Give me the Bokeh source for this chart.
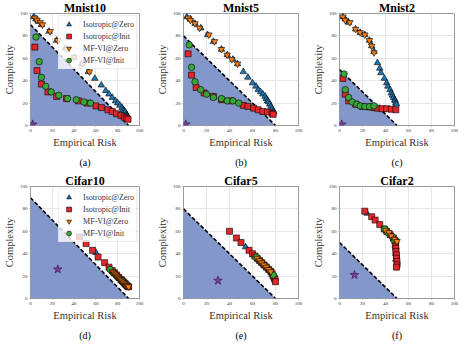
from bokeh.plotting import figure
from bokeh.layouts import gridplot
from bokeh.models import Range1d, FixedTicker, Title, Legend, LegendItem
from bokeh.embed import file_html
from bokeh.resources import INLINE

# ---------------- data ----------------
titles = ["Mnist10", "Mnist5", "Mnist2", "Cifar10", "Cifar5", "Cifar2"]
captions = ["(a)", "(b)", "(c)", "(d)", "(e)", "(f)"]
bounds = [90, 80, 50, 90, 80, 50]
star_x = [2, 2, 2, 25, 30, 13]
star_y = [1, 1, 1, 26, 16, 21]
ticks = [0, 20, 40, 60, 80, 100]
series_names = ["Isotropic@Zero", "Isotropic@Init", "MF-VI@Zero", "MF-VI@Init"]

# Mnist10
mnist10_iso_zero_x = [3, 5, 7, 10, 17, 24, 32, 40, 47, 53, 59, 65, 69, 72, 75, 78, 80, 82, 84, 85, 86, 87, 88, 88.5, 89]
mnist10_iso_zero_y = [97, 95, 93, 90, 84, 76, 69, 61, 55, 48, 42, 36, 31, 28, 25, 22, 20, 18, 16, 14, 13, 12, 10, 9, 8]
mnist10_iso_init_x = [4, 6, 10, 16, 24, 33, 44, 52, 60, 65, 71, 75, 79, 83, 86, 88, 89.5]
mnist10_iso_init_y = [70, 49, 37, 30, 26, 24, 22, 20, 17.5, 16, 14, 12.5, 10.5, 9, 7.5, 6.5, 5.5]
mnist10_mf_zero_x = [4, 6, 9, 11, 18, 25, 33, 40, 48, 54]
mnist10_mf_zero_y = [96, 94, 92, 90, 84, 76, 68, 61, 55, 48]
mnist10_mf_init_x = [5, 8, 10, 14, 19, 26, 34, 42, 49, 55]
mnist10_mf_init_y = [79, 57, 43, 35, 30, 27, 24, 23, 21, 20]

# Mnist5
mnist5_iso_zero_x = [3, 6, 10, 15, 21, 26, 33, 38, 43, 47, 52, 56, 60, 63, 65, 67, 69, 71, 72, 73, 74, 75, 76, 77, 78, 78.5]
mnist5_iso_zero_y = [97, 95, 91, 87, 81, 75, 68, 63, 59, 55, 48, 43, 38, 35, 32, 30, 28, 26, 24, 22, 21, 19, 17, 15, 13, 12]
mnist5_iso_init_x = [4, 7, 11, 18, 26, 33, 41, 52, 56, 61, 65, 69, 73, 77, 78]
mnist5_iso_init_y = [64, 45, 34, 29, 26, 23, 22, 18, 17, 15.5, 14, 12.5, 12, 10.5, 10]
mnist5_mf_zero_x = [4, 6, 10, 14, 22, 27, 33, 38, 42, 47]
mnist5_mf_zero_y = [96, 94, 91, 87, 81, 75, 68, 63, 59, 55]
mnist5_mf_init_x = [5, 7, 10, 15, 20, 26, 33, 38, 43, 48]
mnist5_mf_init_y = [72, 52, 39, 32, 28, 25, 24, 22, 22, 20]

# Mnist2
mnist2_iso_zero_x = [3, 5, 8, 14, 18, 22, 26, 28, 30, 33, 35, 36, 39, 41, 42, 44, 45, 46, 47, 48, 48.5, 49, 49.5]
mnist2_iso_zero_y = [97, 95, 92, 86, 83, 81, 76, 71, 66, 56, 51, 47, 42, 38, 35, 32, 29, 27, 25, 23, 22, 20, 19]
mnist2_iso_init_x = [3, 5, 8, 14, 20, 26, 30, 33, 37, 41, 45, 49]
mnist2_iso_init_y = [42, 28, 22, 19, 17, 16.5, 16, 15.5, 15, 15, 14.5, 14]
mnist2_mf_zero_x = [3, 5, 9, 14, 18, 22, 26, 28, 30]
mnist2_mf_zero_y = [97, 94, 92, 86, 83, 81, 76, 71, 65]
mnist2_mf_init_x = [4, 5, 8, 11, 15, 18, 22, 26, 30]
mnist2_mf_init_y = [46, 32, 25, 21, 19, 17.5, 17, 17, 17.5]

# Cifar10
cifar10_iso_zero_x = [60, 74, 78, 82, 85, 88, 90]
cifar10_iso_zero_y = [41, 26, 22, 18, 15, 12, 10]
cifar10_iso_init_x = [45, 51, 57, 62, 68, 72, 75, 77, 79, 81, 83, 84, 85, 86, 87, 88, 89, 90]
cifar10_iso_init_y = [55, 49, 43, 37, 32, 28, 25, 23, 21, 19, 17, 16, 15, 14, 13, 12, 11, 10.5]
cifar10_mf_zero_x = [75, 76, 77, 78, 79, 80, 81, 82, 83, 84, 85, 86, 87, 88, 89, 90]
cifar10_mf_zero_y = [24, 23, 22, 21, 20, 19, 18, 17, 16, 15, 14, 13, 12, 11.5, 11, 10.5]
cifar10_mf_init_x = [73, 76, 80, 84, 87, 89]
cifar10_mf_init_y = [26, 23, 19, 16, 13, 11]

# Cifar5
cifar5_iso_zero_x = [54, 61, 65, 70, 74, 78]
cifar5_iso_zero_y = [46, 39, 35, 30, 26, 22]
cifar5_iso_init_x = [40, 46, 50, 57, 60, 62, 64, 66, 68, 70, 72, 74, 76, 77, 78, 79, 79.5, 80]
cifar5_iso_init_y = [60, 54, 50, 43, 40, 38, 36, 34, 32, 30, 28, 26, 24, 22, 20, 18, 17, 15]
cifar5_mf_zero_x = [64, 66, 68, 70, 72, 74, 76]
cifar5_mf_zero_y = [36, 34, 32, 30, 28, 26, 24]
cifar5_mf_init_x = [63, 67, 71, 75, 78]
cifar5_mf_init_y = [37, 33, 29, 25, 21]

# Cifar2
cifar2_iso_zero_x = [24, 47, 48, 49, 49, 49, 50]
cifar2_iso_zero_y = [76, 53, 51, 46, 40, 35, 31]
cifar2_iso_init_x = [22, 28, 31, 35, 39, 41, 44, 47, 49, 48.5, 49, 49, 49.5, 49.5, 50, 50, 49.5]
cifar2_iso_init_y = [78, 73, 70, 66, 62, 60, 57, 54, 51, 48, 45, 42, 39, 36, 33, 30, 28]
cifar2_mf_zero_x = [40, 43, 45, 48, 50]
cifar2_mf_zero_y = [61, 59, 56, 53, 51]
cifar2_mf_init_x = [39, 42, 46, 48]
cifar2_mf_init_y = [62, 59, 55, 52]

panels = [
    [(mnist10_iso_zero_x, mnist10_iso_zero_y), (mnist10_iso_init_x, mnist10_iso_init_y),
     (mnist10_mf_zero_x, mnist10_mf_zero_y), (mnist10_mf_init_x, mnist10_mf_init_y)],
    [(mnist5_iso_zero_x, mnist5_iso_zero_y), (mnist5_iso_init_x, mnist5_iso_init_y),
     (mnist5_mf_zero_x, mnist5_mf_zero_y), (mnist5_mf_init_x, mnist5_mf_init_y)],
    [(mnist2_iso_zero_x, mnist2_iso_zero_y), (mnist2_iso_init_x, mnist2_iso_init_y),
     (mnist2_mf_zero_x, mnist2_mf_zero_y), (mnist2_mf_init_x, mnist2_mf_init_y)],
    [(cifar10_iso_zero_x, cifar10_iso_zero_y), (cifar10_iso_init_x, cifar10_iso_init_y),
     (cifar10_mf_zero_x, cifar10_mf_zero_y), (cifar10_mf_init_x, cifar10_mf_init_y)],
    [(cifar5_iso_zero_x, cifar5_iso_zero_y), (cifar5_iso_init_x, cifar5_iso_init_y),
     (cifar5_mf_zero_x, cifar5_mf_zero_y), (cifar5_mf_init_x, cifar5_mf_init_y)],
    [(cifar2_iso_zero_x, cifar2_iso_zero_y), (cifar2_iso_init_x, cifar2_iso_init_y),
     (cifar2_mf_zero_x, cifar2_mf_zero_y), (cifar2_mf_init_x, cifar2_mf_init_y)],
]

# ---------------- style ----------------
SERIF = "Liberation Serif"
markers = ["triangle", "square", "inverted_triangle", "circle"]
colors = ["#1f77b4", "#e3262a", "#ff7f0e", "#3aa63a"]
sizes = [6.5, 6, 6.5, 6.5]
draw_order = [0, 1, 3, 2]
FILL = "#8497ca"

col_w = [153, 153, 152]
col_left = [26, 30, 33]
col_right = [14, 8, 4]
row_h = 173


def make_panel(i):
    c = i % 3
    p = figure(width=col_w[c], height=row_h, output_backend="svg",
               toolbar_location=None, tools="",
               x_range=Range1d(0, 100), y_range=Range1d(0, 100),
               min_border_left=col_left[c], min_border_right=col_right[c],
               min_border_top=0, min_border_bottom=48)
    p.title = Title(text=titles[i], align="center", text_font=SERIF,
                    text_font_style="bold", text_font_size="12px",
                    text_color="black", standoff=-3, offset=0,
                    text_line_height=0.9)
    p.add_layout(Title(text=captions[i], align="center", text_font=SERIF,
                       text_font_style="normal", text_font_size="10px",
                       text_color="black", standoff=8,
                       text_line_height=0.9), "below")
    p.background_fill_color = "white"
    p.border_fill_color = "white"
    p.outline_line_color = "#9a9a9a"
    p.outline_line_width = 1
    for ax in (p.xaxis[0], p.yaxis[0]):
        ax.ticker = FixedTicker(ticks=ticks)
        ax.major_label_text_font = SERIF
        ax.major_label_text_font_size = "5px"
        ax.major_label_text_color = "#333333"
        ax.major_label_standoff = 2
        ax.major_tick_out = 1
        ax.major_tick_in = 0
        ax.minor_tick_out = 0
        ax.minor_tick_in = 0
        ax.major_tick_line_color = "#9a9a9a"
        ax.axis_line_color = None
        ax.axis_label_text_font = SERIF
        ax.axis_label_text_font_style = "normal"
        ax.axis_label_text_font_size = "10.5px"
        ax.axis_label_text_color = "#333333"
        ax.axis_label_standoff = 2
    p.xaxis.axis_label = "Empirical Risk"
    p.yaxis.axis_label = "Complexity"
    p.xgrid.grid_line_color = "#e6e6e6"
    p.ygrid.grid_line_color = "#e6e6e6"

    k = bounds[i]
    p.patch([0, k, 0], [0, 0, k], fill_color=FILL, line_color=None)
    p.line([0, k], [k, 0], line_color="black", line_width=1.6, line_dash="4 2")

    renderers = {}
    for s in draw_order:
        xs, ys = panels[i][s]
        renderers[s] = p.scatter(xs, ys, marker=markers[s], size=sizes[s],
                                 fill_color=colors[s], line_color="black",
                                 line_width=0.6)

    p.scatter([star_x[i]], [star_y[i]], marker="star", size=9,
              fill_color="#7b3fa0", line_color="#2a1040", line_width=0.6)

    if c == 0:
        items = [LegendItem(label=series_names[s], renderers=[renderers[s]])
                 for s in range(4)]
        lg = Legend(items=items, location="top_right")
        lg.label_text_font = SERIF
        lg.label_text_font_size = "8px"
        lg.label_text_color = "#333333"
        lg.label_height = 10
        lg.glyph_height = 12
        lg.glyph_width = 15
        lg.label_standoff = 7
        lg.spacing = 0
        lg.padding = 2
        lg.margin = 2
        lg.border_line_color = "#dddddd"
        lg.border_line_width = 1
        lg.background_fill_alpha = 0.8
        p.add_layout(lg)
    return p


figs = [make_panel(i) for i in range(6)]
grid = gridplot([figs[0:3], figs[3:6]], toolbar_location=None)

open("out.html", "w").write(file_html(grid, INLINE))
